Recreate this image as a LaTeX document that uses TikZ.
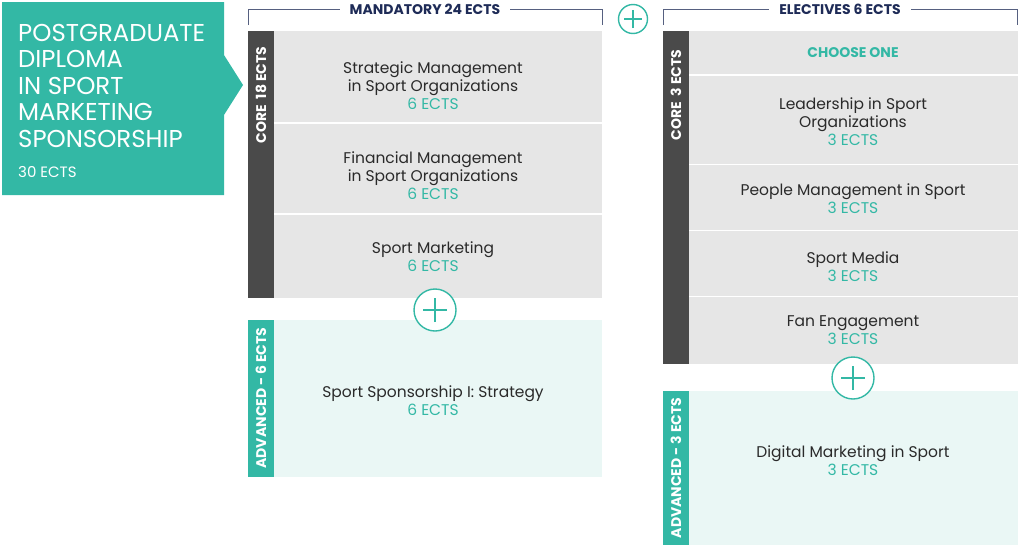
\documentclass[tikz,border=0pt]{standalone}
\usepackage{fontspec}
\setmainfont{Poppins}
\usetikzlibrary{positioning}

\definecolor{teal}{HTML}{33B8A5}
\definecolor{darkbar}{HTML}{4A4A4A}
\definecolor{lightbox}{HTML}{E6E6E6}
\definecolor{lightteal}{HTML}{EAF7F5}
\definecolor{navy}{HTML}{1E2B57}
\definecolor{bracket}{HTML}{566080}
\definecolor{bodytext}{HTML}{2A2A2A}

\newcommand{\ects}[1]{\\{\color{teal}#1}}

\tikzset{
	box/.style={fill=#1, anchor=north west, inner sep=0pt, outer sep=0pt},
	course/.style={text=bodytext, align=center, inner sep=0pt,
		font=\fontsize{15.5}{18}\selectfont},
	barlabel/.style={rotate=90, text=white, inner sep=0pt,
		font=\bfseries\fontsize{14}{16}\selectfont},
	head/.style={fill=white, text=navy, inner xsep=10pt, inner ysep=4pt,
		font=\bfseries\fontsize{14}{16}\selectfont},
	plus/.style={circle, draw=teal, fill=white, line width=1.4pt, inner sep=0pt},
}

\begin{document}
\begin{tikzpicture}[x=1pt, y=-1pt]
	\useasboundingbox (0,0) rectangle (1024,552);

	% title arrow
	\fill[teal] (2,2) -- (224,2) -- (224,55) -- (243,85) -- (224,115)
		-- (224,195) -- (2,195) -- cycle;
	\node[anchor=north west, inner sep=0pt, text=white, align=left,
		font=\fontsize{24.4}{26.5}\selectfont] (title) at (18,24)
		{POSTGRADUATE\\DIPLOMA\\IN SPORT\\MARKETING\\SPONSORSHIP};
	\node[anchor=base west, inner sep=0pt, text=white,
		font=\fontsize{15}{17}\selectfont] (total) at (18,177) {30 ECTS};

	% mandatory column
	\draw[bracket, line width=0.9pt] (248,25) |- (602,9) -- (602,25);
	\node[head] (mand) at (425,9) {MANDATORY 24 ECTS};

	\node[box=darkbar, minimum width=26pt, minimum height=267pt] (core1) at (248,31) {};
	\node[barlabel] (core1lab) at (261,95) {CORE\ \ 18 ECTS};
	\node[box=lightbox, minimum width=328pt, minimum height=91pt] (sm) at (274,31) {};
	\node[box=lightbox, minimum width=328pt, minimum height=89pt] (fm) at (274,124) {};
	\node[box=lightbox, minimum width=328pt, minimum height=83pt] (mk) at (274,215) {};
	\node[course] (smtext) at (433,86) {Strategic Management\\in Sport Organizations\ects{6 ECTS}};
	\node[course] (fmtext) at (433,176) {Financial Management\\in Sport Organizations\ects{6 ECTS}};
	\node[course] (mktext) at (433,257) {Sport Marketing\ects{6 ECTS}};

	\node[box=teal, minimum width=26pt, minimum height=157pt] (adv1) at (248,320) {};
	\node[barlabel] (adv1lab) at (261,398) {ADVANCED - 6 ECTS};
	\node[box=lightteal, minimum width=328pt, minimum height=157pt] (sp) at (274,320) {};
	\node[course] (sptext) at (433,401) {Sport Sponsorship I: Strategy\ects{6 ECTS}};

	% top plus sign
	\node[plus, minimum size=29pt] (plustop) at (633,19) {};
	\draw[teal, line width=1.8pt]
		([xshift=-9pt]plustop.center) -- ([xshift=9pt]plustop.center)
		([yshift=-9pt]plustop.center) -- ([yshift=9pt]plustop.center);

	% electives column
	\draw[bracket, line width=0.9pt] (663,25) |- (1017,9) -- (1017,25);
	\node[head] (elec) at (840,9) {ELECTIVES 6 ECTS};

	\node[box=darkbar, minimum width=26pt, minimum height=333pt] (core2) at (663,31) {};
	\node[barlabel] (core2lab) at (676,95) {CORE\ \ 3 ECTS};
	\node[box=lightbox, minimum width=329pt, minimum height=43pt] (choose) at (689,31) {};
	\node[box=lightbox, minimum width=329pt, minimum height=88pt] (ld) at (689,76) {};
	\node[box=lightbox, minimum width=329pt, minimum height=65pt] (pm) at (689,165) {};
	\node[box=lightbox, minimum width=329pt, minimum height=65pt] (me) at (689,231) {};
	\node[box=lightbox, minimum width=329pt, minimum height=67pt] (fe) at (689,297) {};
	\node[text=teal, inner sep=0pt, font=\bfseries\fontsize{14}{16}\selectfont]
		(choosetext) at (853,53) {CHOOSE ONE};
	\node[course] (ldtext) at (853,122) {Leadership in Sport\\Organizations\ects{3 ECTS}};
	\node[course] (pmtext) at (853,199) {People Management in Sport\ects{3 ECTS}};
	\node[course] (metext) at (853,267) {Sport Media\ects{3 ECTS}};
	\node[course] (fetext) at (853,330) {Fan Engagement\ects{3 ECTS}};

	\node[box=teal, minimum width=26pt, minimum height=154pt] (adv2) at (663,391) {};
	\node[barlabel] (adv2lab) at (676,468) {ADVANCED - 3 ECTS};
	\node[box=lightteal, minimum width=329pt, minimum height=154pt] (dm) at (689,391) {};
	\node[course] (dmtext) at (853,461) {Digital Marketing in Sport\ects{3 ECTS}};

	% plus signs between core and advanced
	\node[plus, minimum size=42pt] (plusleft) at (435,310) {};
	\node[plus, minimum size=42pt] (plusright) at (853,378) {};
	\foreach \p in {plusleft, plusright}
		\draw[teal, line width=2.2pt]
			([xshift=-12pt]\p.center) -- ([xshift=12pt]\p.center)
			([yshift=-12pt]\p.center) -- ([yshift=12pt]\p.center);
\end{tikzpicture}
\end{document}
